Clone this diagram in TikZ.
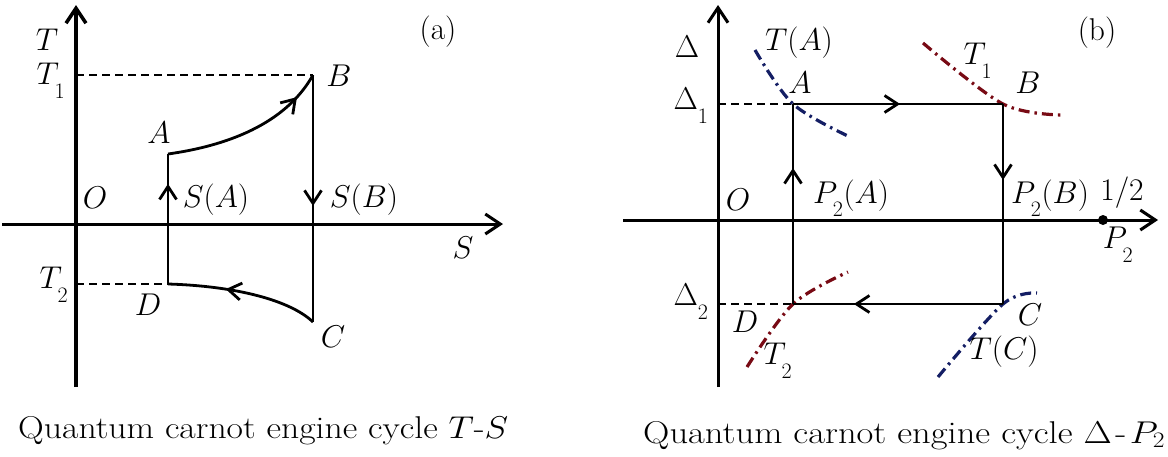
\RequirePackage{fix-cm}
\documentclass[tikz,border=0pt]{standalone}
\usepackage{fontspec}
\usetikzlibrary{arrows.meta,decorations.markings}
\newcommand{\lsub}[1]{_{\raisebox{-0.28em}{$\scriptstyle #1$}}}
\definecolor{dblue}{RGB}{20,30,100}
\definecolor{dred}{RGB}{120,10,20}
\tikzset{
  lbl/.style={font=\fontsize{31.5}{38}\selectfont, inner sep=0pt},
  captext/.style={font=\fontsize{31.5}{38}\selectfont, inner sep=0pt, anchor=base west},
  axis/.style={line width=3pt, -{Straight Barb[length=15pt,width=20pt]}},
  cyc/.style={line width=2.8pt},
  guide/.style={line width=2.2pt, dash pattern=on 8pt off 5pt},
  iso/.style={line width=3.2pt, dash pattern=on 11pt off 5pt on 2.5pt off 5pt},
  midarrow/.style={postaction={decorate}, decoration={markings,
    mark=at position #1 with {\arrow{Straight Barb[length=13pt,width=17pt]}}}},
}
\begin{document}
\begin{tikzpicture}[x=1pt,y=-1pt]
\useasboundingbox (0,0) rectangle (1168,456);
% ---------------- panel (a)
\coordinate (aA) at (168,154);
\coordinate (aB) at (313,75);
\coordinate (aC) at (313,322);
\coordinate (aD) at (168,284);
\coordinate (aYb) at (76,387);
\coordinate (aYt) at (76,5);
\coordinate (aXl) at (2,224);
\coordinate (aXr) at (503,224);
\coordinate (aT1) at (76,75);
\coordinate (aT2) at (76,284);
\draw[axis, line width=3.6pt] (aYb) -- (aYt);
\draw[axis] (aXl) -- (aXr);
\draw[guide] (aT1) -- (aB);
\draw[guide] (aT2) -- (aD);
\draw[cyc, midarrow=0.84] (aA) .. controls (225,146) and (285,125) .. (aB);
\draw[cyc, midarrow=0.53] (aB) -- (aC);
\draw[cyc, midarrow=0.62] (aC) .. controls (290,300) and (235,286) .. (aD);
\draw[cyc, midarrow=0.77] (aD) -- (aA);
\node[lbl] (laT) at (47,40) {$T$};
\node[lbl] (laT1) at (51,81) {$T\lsub{1}$};
\node[lbl] (laB) at (339,76) {$B$};
\node[lbl] (laA) at (159,133) {$A$};
\node[lbl] (laO) at (95,198) {$O$};
\node[lbl] (laSA) at (216,200) {$S(A)$};
\node[lbl] (laSB) at (364,200) {$S(B)$};
\node[lbl] (laS) at (463,248) {$S$};
\node[lbl] (laT2) at (54,285) {$T\lsub{2}$};
\node[lbl] (laD) at (148,305) {$D$};
\node[lbl] (laC) at (333,337) {$C$};
\node[lbl] (laa) at (438,32) {(a)};
\node[captext] (capa) at (18,438) {\resizebox{490pt}{\height}{Quantum carnot engine cycle $T$-$S$}};
% ---------------- panel (b)
\coordinate (bA) at (793,104);
\coordinate (bB) at (1003,104);
\coordinate (bC) at (1003,304);
\coordinate (bD) at (793,304);
\coordinate (bYb) at (718,387);
\coordinate (bYt) at (718,5);
\coordinate (bXl) at (623,220);
\coordinate (bXr) at (1158,220);
\coordinate (bD1) at (718,104);
\coordinate (bD2) at (718,304);
\draw[axis] (bYb) -- (bYt);
\draw[axis] (bXl) -- (bXr);
\draw[guide] (bD1) -- (bA);
\draw[guide] (bD2) -- (bD);
\draw[iso, dblue] plot[smooth, tension=0.55] coordinates {(755,50) (793,104) (850,137)};
\draw[iso, dred] plot[smooth, tension=0.55] coordinates {(923,43) (1003,104) (1063,115)};
\draw[iso, dred] plot[smooth, tension=0.55] coordinates {(747,367) (793,304) (848,272)};
\draw[iso, dblue] plot[smooth, tension=0.55] coordinates {(938,377) (1003,304) (1037,293)};
\draw[cyc, midarrow=0.51] (bA) -- (bB);
\draw[cyc, midarrow=0.38] (bB) -- (bC);
\draw[cyc, midarrow=0.71] (bC) -- (bD);
\draw[cyc, midarrow=0.68] (bD) -- (bA);
\node[circle, fill=black, inner sep=0pt, minimum size=10pt] (half) at (1103,220) {};
\node[lbl] (lbDel) at (687,47) {$\Delta$};
\node[lbl] (lbTA) at (799,43) {$T(A)$};
\node[lbl] (lbA) at (800,83) {$A$};
\node[lbl] (lbD1) at (691,106) {$\Delta\lsub{1}$};
\node[lbl] (lbT1) at (978,61) {$T\lsub{1}$};
\node[lbl] (lbB) at (1028,83) {$B$};
\node[lbl] (lbb) at (1097,33) {(b)};
\node[lbl] (lbO) at (738,200) {$O$};
\node[lbl] (lbPA) at (851,198) {$P\lsub{2}(A)$};
\node[lbl] (lbPB) at (1050,198) {$P\lsub{2}(B)$};
\node[lbl] (lbhalf) at (1122,193) {$1/2$};
\node[lbl] (lbP2) at (1118,245) {$P\lsub{2}$};
\node[lbl] (lbD2) at (691,302) {$\Delta\lsub{2}$};
\node[lbl] (lbD) at (745,322) {$D$};
\node[lbl] (lbT2) at (778,361) {$T\lsub{2}$};
\node[lbl] (lbC) at (1030,315) {$C$};
\node[lbl] (lbTC) at (1004,352) {$T(C)$};
\node[captext] (capb) at (643,443) {\resizebox{522pt}{\height}{Quantum carnot engine cycle $\Delta$\kern3pt-\kern3pt$P_2$}};
\end{tikzpicture}
\end{document}
